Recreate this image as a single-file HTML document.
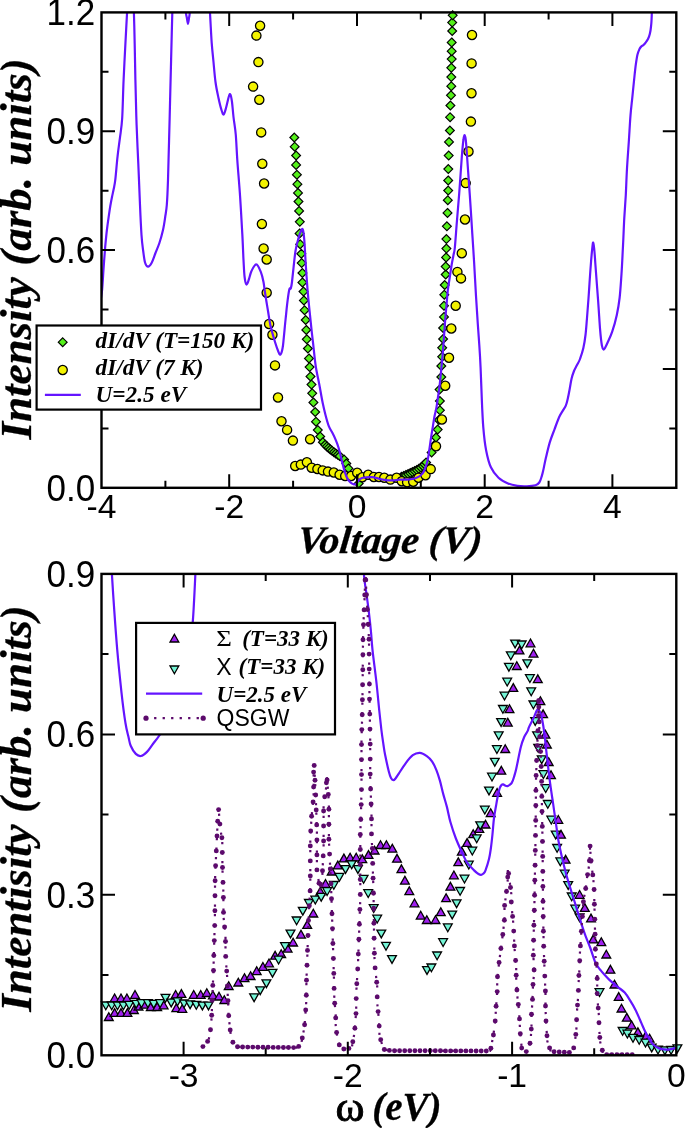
<!DOCTYPE html><html><head><meta charset="utf-8"><style>html,body{margin:0;padding:0;background:#fff;}svg{display:block;}</style></head><body>
<svg width="685" height="1128" viewBox="0 0 685 1128">
<rect width="685" height="1128" fill="#fff"/>
<defs><clipPath id="ct"><rect x="101.5" y="12.4" width="574.8" height="475.40000000000003"/></clipPath><clipPath id="cb"><rect x="101.5" y="573.9" width="574.8" height="481.4"/></clipPath><path id="dm" d="M0,-4.4 L4.4,0 L0,4.4 L-4.4,0Z" fill="#55f01a" stroke="#000" stroke-width="1.2"/><circle id="ci" r="4.6" fill="#f2f200" stroke="#000" stroke-width="1.3"/><path id="tu" d="M0,-4.7 L4.4,3.1 L-4.4,3.1Z" fill="#a020f0" stroke="#000" stroke-width="1.3" stroke-linejoin="miter"/><path id="td" d="M0,4.7 L4.4,-3.1 L-4.4,-3.1Z" fill="#74f5d6" stroke="#000" stroke-width="1.3" stroke-linejoin="miter"/></defs>
<g><use href="#dm" x="294.3" y="137.5"/><use href="#dm" x="294.7" y="146.7"/><use href="#dm" x="296.1" y="155.5"/><use href="#dm" x="296.1" y="164.9"/><use href="#dm" x="296.9" y="174.7"/><use href="#dm" x="297.4" y="184.2"/><use href="#dm" x="298" y="192.9"/><use href="#dm" x="298.5" y="201.5"/><use href="#dm" x="299.1" y="210.9"/><use href="#dm" x="299.8" y="221.8"/><use href="#dm" x="299.6" y="233.4"/><use href="#dm" x="300.2" y="244.2"/><use href="#dm" x="301.3" y="253.8"/><use href="#dm" x="301.7" y="263.1"/><use href="#dm" x="302.4" y="273"/><use href="#dm" x="302.4" y="282.4"/><use href="#dm" x="303.5" y="291.6"/><use href="#dm" x="303.9" y="300.4"/><use href="#dm" x="304.6" y="310.2"/><use href="#dm" x="305.7" y="320"/><use href="#dm" x="306.3" y="329.9"/><use href="#dm" x="306.8" y="339.3"/><use href="#dm" x="307.9" y="348.5"/><use href="#dm" x="309" y="358.4"/><use href="#dm" x="309.6" y="367.1"/><use href="#dm" x="310.5" y="376.4"/><use href="#dm" x="311.5" y="384.6"/><use href="#dm" x="312.2" y="393.3"/><use href="#dm" x="313.4" y="402.4"/><use href="#dm" x="315.2" y="412"/><use href="#dm" x="316" y="421.7"/><use href="#dm" x="317.8" y="430.1"/><use href="#dm" x="320.2" y="436.5"/><use href="#dm" x="322.9" y="442.2"/><use href="#dm" x="325.2" y="444.8"/><use href="#dm" x="326.9" y="446.4"/><use href="#dm" x="328.6" y="447.9"/><use href="#dm" x="330.3" y="449.4"/><use href="#dm" x="332.1" y="450.8"/><use href="#dm" x="334" y="452.2"/><use href="#dm" x="335.8" y="453.6"/><use href="#dm" x="337.8" y="454.8"/><use href="#dm" x="339.7" y="456.1"/><use href="#dm" x="344.1" y="459.6"/><use href="#dm" x="346.3" y="463.6"/><use href="#dm" x="348.4" y="468.4"/><use href="#dm" x="358.7" y="483.4"/><use href="#dm" x="401.5" y="476.8"/><use href="#dm" x="403.7" y="475.9"/><use href="#dm" x="405.9" y="474.9"/><use href="#dm" x="408.1" y="474"/><use href="#dm" x="410.3" y="473.1"/><use href="#dm" x="412.5" y="472.1"/><use href="#dm" x="414.7" y="471.1"/><use href="#dm" x="416.8" y="470"/><use href="#dm" x="418.9" y="468.8"/><use href="#dm" x="420.9" y="467.4"/><use href="#dm" x="422.8" y="466"/><use href="#dm" x="424.5" y="464.3"/><use href="#dm" x="426.1" y="462.5"/><use href="#dm" x="431.6" y="452.4"/><use href="#dm" x="434.5" y="445"/><use href="#dm" x="436" y="437.5"/><use href="#dm" x="437.7" y="429.6"/><use href="#dm" x="438.8" y="420"/><use href="#dm" x="439.9" y="410.3"/><use href="#dm" x="439.9" y="401"/><use href="#dm" x="439.6" y="389.6"/><use href="#dm" x="441.3" y="377"/><use href="#dm" x="441.3" y="366"/><use href="#dm" x="442.2" y="356.8"/><use href="#dm" x="442.2" y="347.8"/><use href="#dm" x="443.1" y="339"/><use href="#dm" x="443.1" y="328"/><use href="#dm" x="444" y="316.9"/><use href="#dm" x="444" y="305.7"/><use href="#dm" x="444.3" y="294.7"/><use href="#dm" x="444.7" y="285"/><use href="#dm" x="445.7" y="274.5"/><use href="#dm" x="445.7" y="266.6"/><use href="#dm" x="446.1" y="257.4"/><use href="#dm" x="446.4" y="248.6"/><use href="#dm" x="446.4" y="239.1"/><use href="#dm" x="446.9" y="226.3"/><use href="#dm" x="447.5" y="212.9"/><use href="#dm" x="447.8" y="200.2"/><use href="#dm" x="448.2" y="190.6"/><use href="#dm" x="448.2" y="180.4"/><use href="#dm" x="448.3" y="169.1"/><use href="#dm" x="448.7" y="155.6"/><use href="#dm" x="449" y="141.9"/><use href="#dm" x="449.9" y="130.5"/><use href="#dm" x="450.1" y="117.2"/><use href="#dm" x="450.4" y="105.5"/><use href="#dm" x="451" y="95.3"/><use href="#dm" x="451.3" y="86.2"/><use href="#dm" x="451.3" y="77.1"/><use href="#dm" x="451.3" y="67.8"/><use href="#dm" x="451.7" y="59.1"/><use href="#dm" x="451.7" y="51.2"/><use href="#dm" x="451.7" y="42.4"/><use href="#dm" x="452.2" y="31"/><use href="#dm" x="452.2" y="22.6"/><use href="#dm" x="452.7" y="15.3"/></g>
<g><use href="#ci" x="260.1" y="25.8"/><use href="#ci" x="256.4" y="35.6"/><use href="#ci" x="258.4" y="62.1"/><use href="#ci" x="253.1" y="86.6"/><use href="#ci" x="259.3" y="99.8"/><use href="#ci" x="261.2" y="132.4"/><use href="#ci" x="262.3" y="163.8"/><use href="#ci" x="264.1" y="183.5"/><use href="#ci" x="261.9" y="224"/><use href="#ci" x="263.6" y="248.5"/><use href="#ci" x="266.7" y="259.5"/><use href="#ci" x="266.7" y="292.7"/><use href="#ci" x="269.1" y="324"/><use href="#ci" x="272.4" y="334.7"/><use href="#ci" x="275" y="365.4"/><use href="#ci" x="278" y="397.5"/><use href="#ci" x="281.5" y="421.3"/><use href="#ci" x="287.1" y="429.9"/><use href="#ci" x="292.9" y="440.6"/><use href="#ci" x="310.1" y="439.2"/><use href="#ci" x="295.2" y="466"/><use href="#ci" x="300.8" y="464.6"/><use href="#ci" x="306.9" y="462.3"/><use href="#ci" x="311.7" y="467.8"/><use href="#ci" x="317.4" y="469"/><use href="#ci" x="322.7" y="470.4"/><use href="#ci" x="328" y="471.6"/><use href="#ci" x="333.8" y="472.5"/><use href="#ci" x="339.6" y="474.7"/><use href="#ci" x="345.2" y="476"/><use href="#ci" x="351.1" y="476"/><use href="#ci" x="357.2" y="472.8"/><use href="#ci" x="362.3" y="477.3"/><use href="#ci" x="368.2" y="474.7"/><use href="#ci" x="373.8" y="477"/><use href="#ci" x="379" y="477"/><use href="#ci" x="384.3" y="477.8"/><use href="#ci" x="390.4" y="479.6"/><use href="#ci" x="396.6" y="477.8"/><use href="#ci" x="401.8" y="481.3"/><use href="#ci" x="407.1" y="482.2"/><use href="#ci" x="413.2" y="481.7"/><use href="#ci" x="418.5" y="477.8"/><use href="#ci" x="425.5" y="475.2"/><use href="#ci" x="430.7" y="469.1"/><use href="#ci" x="436" y="446.3"/><use href="#ci" x="441.9" y="419.5"/><use href="#ci" x="445.2" y="385.8"/><use href="#ci" x="449" y="357.7"/><use href="#ci" x="451.3" y="328.5"/><use href="#ci" x="455.7" y="305.7"/><use href="#ci" x="457.4" y="271.9"/><use href="#ci" x="461" y="278.4"/><use href="#ci" x="461.8" y="253.3"/><use href="#ci" x="465" y="219.5"/><use href="#ci" x="465.7" y="183.1"/><use href="#ci" x="468.5" y="151.5"/><use href="#ci" x="470.9" y="121.6"/><use href="#ci" x="471.5" y="93.2"/><use href="#ci" x="471.6" y="63.4"/><use href="#ci" x="472" y="35"/></g>
<path clip-path="url(#ct)" d="M101,298 C101.2,296.5 101.8,294 102.2,289 C102.6,284 103.1,275.1 103.6,268 C104.1,260.9 104.7,253 105.2,246.7 C105.8,240.4 106.3,234.9 106.9,230 C107.5,225.1 108,221.3 108.6,217.3 C109.2,213.3 109.7,209.4 110.3,206 C110.9,202.6 111.4,199.9 112,197 C112.6,194.1 113.2,191.5 113.8,188.5 C114.4,185.5 114.8,184.2 115.4,178.8 C116,173.4 116.8,163 117.6,156.2 C118.3,149.4 119.1,144.5 119.9,138.1 C120.7,131.7 121.6,127.7 122.2,118 C122.8,108.3 123,93 123.6,80 C124.2,67 124.9,52.5 125.6,40 C126.2,27.5 126.8,18.3 127.5,5 C128.2,-8.3 129.3,-32.5 130,-40 C130.7,-47.5 130.8,-48.8 131.5,-40 C132.2,-31.2 133.2,-7 133.9,13 C134.6,33 135,61.3 135.4,80 C135.8,98.7 136.1,111 136.6,125 C137.1,139 137.7,150.5 138.3,163.8 C138.9,177.1 139.5,193.1 140,205 C140.5,216.9 141,227.3 141.5,235 C142,242.7 142.6,246.4 143.2,251 C143.8,255.6 144.3,260.1 145.1,262.7 C145.9,265.3 147,266.6 148.1,266.6 C149.2,266.6 150.5,264.9 151.7,262.7 C152.9,260.5 154,256.8 155.3,253.5 C156.6,250.2 158.1,246.9 159.4,243 C160.7,239.1 162,234.3 163,230 C164,225.7 164.6,221.2 165.2,217 C165.8,212.8 166.3,211.2 166.8,205 C167.3,198.8 167.7,189.2 168,180 C168.3,170.8 168.5,160 168.8,150 C169.1,140 169.2,135 169.6,120 C170,105 170.6,77.8 171.1,60 C171.6,42.2 171.8,29.7 172.3,13 C172.8,-3.7 172.1,-31.2 174,-40 C175.9,-48.8 181.6,-48 183.5,-40 C185.4,-32 185,-1.7 185.6,8 C186.2,17.7 186.5,15.3 186.9,18 C187.3,20.7 187.7,24 188,24 C188.3,24 188.7,20.7 189,18 C189.3,15.3 189.6,17.7 190,8 C190.4,-1.7 188.7,-32 191.5,-40 C194.3,-48 203.9,-48.8 207,-40 C210.1,-31.2 209.2,-0.8 210,13 C210.8,26.8 211.1,34.6 211.7,42.8 C212.3,51 212.9,55.5 213.5,62 C214.1,68.5 214.7,76 215.5,82 C216.3,88 217.5,93.3 218.5,98 C219.5,102.7 220.6,107.2 221.5,110 C222.4,112.8 222.9,114.8 223.7,114.5 C224.4,114.2 225.2,110.9 226,108 C226.8,105.1 228,99.3 228.7,97 C229.4,94.7 229.8,93.5 230.3,94.3 C230.9,95.1 231.5,98.2 232,102 C232.5,105.8 232.9,111.5 233.5,117 C234.1,122.5 235.2,127.8 235.8,135 C236.4,142.2 236.6,149.7 237.3,160 C238,170.3 239.3,184.3 240.1,196.6 C240.9,208.9 241.7,223.3 242.3,233.9 C242.9,244.5 243.1,252.8 243.5,260 C243.9,267.2 244.1,272.9 244.6,277 C245.1,281.1 245.8,284.2 246.5,284.5 C247.2,284.8 248.2,281.2 249,279 C249.8,276.8 250.3,273.4 251.5,271 C252.7,268.6 254.8,264.2 256.4,264.4 C257.9,264.5 259.6,269 260.8,271.9 C262,274.8 262.8,278.4 263.5,282 C264.2,285.6 264.4,289 265.2,293.8 C265.9,298.6 267.1,305.5 268,311 C268.9,316.5 269.5,321.4 270.7,326.6 C271.9,331.8 273.7,337.8 275,342 C276.3,346.2 277.6,349.9 278.5,352 C279.4,354.1 279.8,355.2 280.5,354.5 C281.2,353.8 282.1,350.8 282.6,348 C283.2,345.2 283.3,342.3 283.8,337.6 C284.3,332.9 284.9,325.5 285.5,320 C286.1,314.5 286.5,309.8 287.1,304.7 C287.7,299.6 288.7,292.2 289.3,289.5 C289.9,286.8 290.4,289.8 290.8,288.5 C291.2,287.2 291.6,285.4 292,282 C292.4,278.6 292.9,273.2 293.5,268 C294.1,262.8 294.7,256 295.5,251 C296.3,246 297.6,241.3 298.5,238 C299.4,234.7 300.3,232.4 301,231 C301.7,229.6 302.2,228 302.8,229.5 C303.4,231 303.8,234.1 304.3,240 C304.8,245.9 305.2,256 305.8,265 C306.4,274 307,283.5 307.9,293.8 C308.8,304.1 310.3,317.7 311.2,326.6 C312.1,335.5 312.8,340.4 313.5,347 C314.2,353.6 314.8,359.8 315.7,366 C316.6,372.2 318,377.8 319.2,384 C320.4,390.2 321.6,397.8 322.7,403 C323.8,408.2 324.5,411.1 325.5,415 C326.5,418.9 327.6,423.1 328.8,426.1 C330,429.1 331.3,430.7 332.5,433 C333.7,435.3 334.8,437.7 335.8,440.1 C336.8,442.5 337.7,444.9 338.5,447.5 C339.3,450.1 339.8,452.6 340.7,456 C341.6,459.4 342.7,464.6 343.7,468.1 C344.7,471.6 345.5,474.6 346.6,477 C347.7,479.4 349.3,481.3 350.5,482.5 C351.7,483.7 353,484.1 354,484.3 C355,484.6 355.5,484.7 356.3,484 C357.1,483.3 357.9,481 358.9,480 C359.8,479 361,478.4 362,478 C363,477.6 363.3,477.6 365,477.5 C366.7,477.4 369.7,477 372,477.2 C374.3,477.4 376.7,478.2 379,478.7 C381.3,479.2 383.7,479.9 386,480.2 C388.3,480.5 390.7,480.5 393,480.4 C395.3,480.3 397.7,479.7 400,479.6 C402.3,479.5 404.7,479.8 407,479.6 C409.3,479.5 411.9,479.2 414,478.7 C416.1,478.2 417.8,477.3 419.3,476.4 C420.8,475.4 421.9,474.6 423,473 C424.1,471.4 424.8,469.2 425.6,467 C426.4,464.8 427.1,462.8 427.7,460 C428.3,457.2 428.8,453.3 429.3,450 C429.8,446.7 430.2,443.5 430.7,440 C431.2,436.5 431.9,432.5 432.5,428.8 C433.1,425.1 433.6,421.5 434.2,418 C434.8,414.5 435.7,411.5 436.4,407.7 C437.1,403.9 437.7,399.1 438.3,395 C438.9,390.9 439.4,387.6 439.9,383.1 C440.4,378.6 440.9,372.7 441.4,368 C441.8,363.3 442.2,360.1 442.6,355.1 C443,350.1 443.5,343.9 443.9,338 C444.3,332.1 444.8,325.7 445.2,320 C445.6,314.3 446.2,308.9 446.6,304 C447,299.1 447.3,294.8 447.8,290.3 C448.3,285.8 449.2,281.3 449.8,277 C450.4,272.7 451.1,268.2 451.7,264.5 C452.3,260.8 453,257.8 453.5,255 C454,252.2 454.3,253 454.8,248 C455.3,243 455.9,234.2 456.6,225.1 C457.3,216 458.3,204.9 459.2,193.6 C460.1,182.2 461.1,165.9 461.8,157 C462.5,148.1 462.9,143.7 463.4,140 C463.8,136.3 464.1,135 464.5,135 C464.9,135 465.4,136.3 465.8,140 C466.2,143.7 466.5,148.1 467.1,157 C467.8,165.9 468.8,180.8 469.7,193.6 C470.6,206.4 471.6,222.5 472.3,233.9 C473,245.3 473.5,251.7 474.1,262 C474.7,272.4 475.4,285.7 476,296 C476.6,306.3 477.2,315.8 477.8,324 C478.4,332.2 478.8,337.7 479.3,345 C479.8,352.3 480.2,359 480.6,368 C481,377 481.4,389.1 481.8,399 C482.2,408.9 482.6,418.9 483.3,427.4 C484,435.9 484.8,443.5 486.1,450.2 C487.4,456.9 488.8,462.7 490.9,467.3 C493,471.9 495.6,475 498.5,477.7 C501.4,480.4 504.9,482 508,483.4 C511.1,484.8 514.2,485.4 517.4,485.9 C520.5,486.4 523.9,486.4 526.9,486.3 C529.9,486.2 533.4,485.9 535.5,485.3 C537.6,484.7 538.3,483.9 539.3,482.5 C540.3,481.1 540.9,478.9 541.5,477 C542.1,475.1 542.4,474.3 543.1,471.1 C543.8,467.9 544.8,462.6 545.9,457.8 C547,453.1 548.3,447.4 549.7,442.6 C551.1,437.9 552.9,433.6 554.5,429.3 C556.1,425 557.8,420.1 559.2,417 C560.6,413.9 561.9,412.3 563,410.4 C564.1,408.5 565,407.5 565.8,405.6 C566.6,403.7 567.1,401.7 567.7,399 C568.3,396.3 569,392.8 569.6,389.5 C570.2,386.2 570.8,382.1 571.5,379 C572.2,375.9 573.1,373.3 574,371 C574.9,368.7 576,367 577,365 C578,363 579,361.8 580,359 C581,356.2 582.4,352.3 583.3,348.3 C584.2,344.3 584.9,340.1 585.5,335 C586.1,329.9 586.4,325.1 587,318 C587.6,310.9 588.3,301.3 588.9,292.5 C589.5,283.7 590.2,272.2 590.8,265 C591.3,257.8 591.8,252.8 592.2,249 C592.6,245.2 592.9,242.3 593.2,242.5 C593.6,242.7 593.9,246.3 594.3,250 C594.7,253.7 594.8,255.9 595.4,264.5 C596,273.1 597.4,290.9 598.2,301.8 C599,312.7 599.5,322.4 600.1,329.7 C600.7,337 601.3,342.2 601.9,345.5 C602.5,348.8 603,349.2 603.6,349.5 C604.2,349.8 604.9,348.1 605.5,347 C606.1,345.9 606.4,345.4 607.5,342.8 C608.6,340.2 610.7,336.2 612.2,331.6 C613.8,327 615.6,320.6 616.8,315 C618,309.4 618.8,304.9 619.6,298 C620.4,291.1 620.9,282.5 621.5,273.8 C622.1,265.1 622.5,255.2 623,245.9 C623.5,236.6 623.8,226.4 624.3,217.9 C624.8,209.4 625.3,203.2 625.8,195 C626.2,186.8 626.5,177.3 627,168.5 C627.5,159.7 628.2,150.8 628.8,141.9 C629.4,133 629.9,122.7 630.5,115.3 C631.1,107.9 631.7,103.5 632.3,97.6 C632.9,91.7 633.5,85.4 634.1,79.8 C634.7,74.2 635.3,68.1 635.9,63.9 C636.5,59.7 636.9,57 637.5,54.5 C638.1,52 638.9,50.3 639.5,49 C640.1,47.7 640.5,47.3 641.2,46.6 C641.9,45.9 642.8,45.7 643.5,45 C644.2,44.3 644.9,43.6 645.6,42.6 C646.4,41.6 647.3,40.4 648,39 C648.7,37.6 649.3,36.1 649.8,34 C650.3,31.9 650.7,30.1 651,26.6 C651.3,23.2 651.5,24.4 651.8,13.3 C652,2.2 652.4,-31.1 652.5,-40" fill="none" stroke="#6414ff" stroke-width="2.2" stroke-linejoin="round"/>
<path d="M229.2,487.8v-13.5M229.2,12.4v13.5M357,487.8v-13.5M357,12.4v13.5M484.7,487.8v-13.5M484.7,12.4v13.5M612.4,487.8v-13.5M612.4,12.4v13.5M165.4,487.8v-7.0M165.4,12.4v7.0M293.1,487.8v-7.0M293.1,12.4v7.0M420.8,487.8v-7.0M420.8,12.4v7.0M548.6,487.8v-7.0M548.6,12.4v7.0M101.5,368.9h13.5M676.3,368.9h-13.5M101.5,250.1h13.5M676.3,250.1h-13.5M101.5,131.2h13.5M676.3,131.2h-13.5M101.5,428.4h7.0M676.3,428.4h-7.0M101.5,309.5h7.0M676.3,309.5h-7.0M101.5,190.7h7.0M676.3,190.7h-7.0M101.5,71.8h7.0M676.3,71.8h-7.0" stroke="#000" stroke-width="2.0" fill="none"/>
<rect x="101.5" y="12.4" width="574.8" height="475.4" fill="none" stroke="#000" stroke-width="2.4"/>
<text transform="translate(95.2,25.3) scale(1,1.05)" text-anchor="end" font-family="'Liberation Sans', Arial, Helvetica, sans-serif" font-size="35">1.2</text>
<text transform="translate(95.2,144.2) scale(1,1.05)" text-anchor="end" font-family="'Liberation Sans', Arial, Helvetica, sans-serif" font-size="35">0.9</text>
<text transform="translate(95.2,263) scale(1,1.05)" text-anchor="end" font-family="'Liberation Sans', Arial, Helvetica, sans-serif" font-size="35">0.6</text>
<text transform="translate(95.2,381.8) scale(1,1.05)" text-anchor="end" font-family="'Liberation Sans', Arial, Helvetica, sans-serif" font-size="35">0.3</text>
<text transform="translate(95.2,500.7) scale(1,1.05)" text-anchor="end" font-family="'Liberation Sans', Arial, Helvetica, sans-serif" font-size="35">0.0</text>
<text transform="translate(101.5,518.2) scale(1.02,1)" text-anchor="middle" font-family="'Liberation Sans', Arial, Helvetica, sans-serif" font-size="33">-4</text>
<text transform="translate(229.2,518.2) scale(1.02,1)" text-anchor="middle" font-family="'Liberation Sans', Arial, Helvetica, sans-serif" font-size="33">-2</text>
<text transform="translate(357,518.2) scale(1.02,1)" text-anchor="middle" font-family="'Liberation Sans', Arial, Helvetica, sans-serif" font-size="33">0</text>
<text transform="translate(484.7,518.2) scale(1.02,1)" text-anchor="middle" font-family="'Liberation Sans', Arial, Helvetica, sans-serif" font-size="33">2</text>
<text transform="translate(612.4,518.2) scale(1.02,1)" text-anchor="middle" font-family="'Liberation Sans', Arial, Helvetica, sans-serif" font-size="33">4</text>
<text transform="translate(296.4,552.8) scale(1.02,1) skewX(-6)" font-family="'Liberation Serif', 'Times New Roman', serif" font-weight="bold" font-style="italic" font-size="39" stroke="#000" stroke-width="0.3">Voltage (V)</text>
<text transform="translate(31,439.5) rotate(-90)" font-family="'Liberation Serif', 'Times New Roman', serif" font-weight="bold" font-style="italic" font-size="45" stroke="#000" stroke-width="0.3">Intensity (arb. units)</text>
<rect x="36.6" y="325.5" width="224.4" height="84.1" fill="#fff" stroke="#000" stroke-width="2.2"/>
<use href="#dm" x="62.7" y="342.2"/><use href="#ci" x="62.7" y="370"/>
<path d="M44.9,394.8H80.8" stroke="#6414ff" stroke-width="2.2"/>
<text transform="translate(95.6,348.2) scale(1.01,1)" font-family="'Liberation Serif', 'Times New Roman', serif" font-weight="bold" font-style="italic" font-size="23">dI/dV (T=150 K)</text>
<text transform="translate(95.6,375.2) scale(1.01,1)" font-family="'Liberation Serif', 'Times New Roman', serif" font-weight="bold" font-style="italic" font-size="23">dI/dV (7 K)</text>
<text transform="translate(95.6,402.0) scale(1.01,1)" font-family="'Liberation Serif', 'Times New Roman', serif" font-weight="bold" font-style="italic" font-size="23">U=2.5 eV</text>
<g><use href="#tu" x="108.8" y="1017.4"/><use href="#tu" x="114.6" y="1013.3"/><use href="#tu" x="121" y="1013.3"/><use href="#tu" x="127.4" y="1013.3"/><use href="#tu" x="133.9" y="1010.4"/><use href="#tu" x="138.5" y="1006.9"/><use href="#tu" x="144.4" y="1005.1"/><use href="#tu" x="150.8" y="1007.4"/><use href="#tu" x="157.2" y="1007.4"/><use href="#tu" x="163.6" y="1005.7"/><use href="#tu" x="176.3" y="1008.5"/><use href="#tu" x="182.3" y="1009.2"/><use href="#tu" x="114.6" y="998.7"/><use href="#tu" x="121" y="998.7"/><use href="#tu" x="126.9" y="998.7"/><use href="#tu" x="135" y="995.2"/><use href="#tu" x="175.6" y="995.2"/><use href="#tu" x="181.4" y="994.3"/><use href="#tu" x="193.7" y="995.2"/><use href="#tu" x="200.7" y="995.2"/><use href="#tu" x="206.8" y="993.4"/><use href="#tu" x="212.9" y="995.7"/><use href="#tu" x="219" y="996.9"/><use href="#tu" x="224.3" y="1000.4"/><use href="#tu" x="228.7" y="986.4"/><use href="#tu" x="238.3" y="982.9"/><use href="#tu" x="244.5" y="978.5"/><use href="#tu" x="250.6" y="976.4"/><use href="#tu" x="256.7" y="971.5"/><use href="#tu" x="262.9" y="967.2"/><use href="#tu" x="269" y="963.7"/><use href="#tu" x="275.1" y="956.1"/><use href="#tu" x="281.2" y="954.4"/><use href="#tu" x="287.6" y="949"/><use href="#tu" x="293.1" y="942.9"/><use href="#tu" x="301" y="935"/><use href="#tu" x="307.2" y="925.3"/><use href="#tu" x="313.3" y="913.9"/><use href="#tu" x="320.3" y="892"/><use href="#tu" x="325.5" y="884.2"/><use href="#tu" x="331.7" y="871.9"/><use href="#tu" x="337.8" y="865.8"/><use href="#tu" x="343.9" y="858.8"/><use href="#tu" x="350.1" y="857.9"/><use href="#tu" x="356.2" y="857.9"/><use href="#tu" x="362.3" y="859.6"/><use href="#tu" x="368.5" y="855.3"/><use href="#tu" x="374.6" y="850.9"/><use href="#tu" x="380.5" y="845.4"/><use href="#tu" x="386.4" y="845.4"/><use href="#tu" x="392.3" y="849"/><use href="#tu" x="397" y="859.1"/><use href="#tu" x="401.4" y="869.6"/><use href="#tu" x="404.9" y="881"/><use href="#tu" x="409.3" y="891.5"/><use href="#tu" x="414.5" y="903.7"/><use href="#tu" x="420.7" y="916"/><use href="#tu" x="426.8" y="920.4"/><use href="#tu" x="435.5" y="920.4"/><use href="#tu" x="440.8" y="912.5"/><use href="#tu" x="446.1" y="898.5"/><use href="#tu" x="450.4" y="887.1"/><use href="#tu" x="453.9" y="875.7"/><use href="#tu" x="458.3" y="862.6"/><use href="#tu" x="461.8" y="852"/><use href="#tu" x="467.1" y="843.3"/><use href="#tu" x="473.2" y="834.5"/><use href="#tu" x="479.3" y="829.3"/><use href="#tu" x="485.5" y="824.9"/><use href="#tu" x="490.7" y="813.5"/><use href="#tu" x="497.1" y="793.2"/><use href="#tu" x="501.3" y="771.1"/><use href="#tu" x="505.2" y="749.4"/><use href="#tu" x="507.8" y="723"/><use href="#tu" x="509.5" y="709.5"/><use href="#tu" x="513.3" y="688.3"/><use href="#tu" x="516.8" y="666.4"/><use href="#tu" x="519.5" y="650.8"/><use href="#tu" x="530.5" y="643.7"/><use href="#tu" x="533.5" y="654"/><use href="#tu" x="537.8" y="679.6"/><use href="#tu" x="540.4" y="701.5"/><use href="#tu" x="543.1" y="714.6"/><use href="#tu" x="545.4" y="735"/><use href="#tu" x="546.9" y="744.9"/><use href="#tu" x="548.7" y="762.4"/><use href="#tu" x="551" y="775.5"/><use href="#tu" x="558.3" y="820.2"/><use href="#tu" x="561" y="835.1"/><use href="#tu" x="565.6" y="860.1"/><use href="#tu" x="579.6" y="895.2"/><use href="#tu" x="584.8" y="908.3"/><use href="#tu" x="591" y="918.8"/><use href="#tu" x="593.2" y="939.8"/><use href="#tu" x="601.3" y="942.5"/><use href="#tu" x="606.3" y="954.9"/><use href="#tu" x="610.4" y="970.1"/><use href="#tu" x="614.5" y="984.9"/><use href="#tu" x="618.7" y="997.3"/><use href="#tu" x="621.5" y="1008.9"/><use href="#tu" x="626.8" y="1018.1"/><use href="#tu" x="631.6" y="1025.7"/><use href="#tu" x="637.9" y="1032.6"/><use href="#tu" x="645.5" y="1036.8"/><use href="#tu" x="649.6" y="1038.9"/></g>
<g><use href="#td" x="105.8" y="1005.1"/><use href="#td" x="111.7" y="1005.1"/><use href="#td" x="117.5" y="1005.1"/><use href="#td" x="123.4" y="1005.1"/><use href="#td" x="129.2" y="1004.5"/><use href="#td" x="136.2" y="1003.4"/><use href="#td" x="141.5" y="1002.8"/><use href="#td" x="147.9" y="1002.8"/><use href="#td" x="153.7" y="1003.4"/><use href="#td" x="160.1" y="1002.8"/><use href="#td" x="165.5" y="997.5"/><use href="#td" x="171.2" y="1002.2"/><use href="#td" x="177.5" y="1001"/><use href="#td" x="184" y="1003.1"/><use href="#td" x="190.1" y="1003.9"/><use href="#td" x="196.3" y="1004.5"/><use href="#td" x="202.4" y="1005.2"/><use href="#td" x="208.5" y="1005.2"/><use href="#td" x="254.1" y="996.9"/><use href="#td" x="260.2" y="989.9"/><use href="#td" x="266.4" y="982.9"/><use href="#td" x="272.5" y="972.4"/><use href="#td" x="278.6" y="959.3"/><use href="#td" x="285" y="945.8"/><use href="#td" x="290.5" y="933.2"/><use href="#td" x="296.6" y="920.1"/><use href="#td" x="302.8" y="910.4"/><use href="#td" x="308.9" y="902.6"/><use href="#td" x="315.3" y="899.3"/><use href="#td" x="321.2" y="896.4"/><use href="#td" x="327.1" y="890.8"/><use href="#td" x="333.8" y="884.6"/><use href="#td" x="339.4" y="876.5"/><use href="#td" x="345.5" y="868.7"/><use href="#td" x="351.7" y="864"/><use href="#td" x="357.9" y="868.7"/><use href="#td" x="363.6" y="878.5"/><use href="#td" x="368.2" y="892.8"/><use href="#td" x="373.7" y="907.8"/><use href="#td" x="377.2" y="918.3"/><use href="#td" x="381.3" y="933.2"/><use href="#td" x="386" y="945.5"/><use href="#td" x="392" y="958.7"/><use href="#td" x="427" y="969.7"/><use href="#td" x="431.4" y="967.1"/><use href="#td" x="437.1" y="955.1"/><use href="#td" x="443.1" y="941.8"/><use href="#td" x="447.8" y="927"/><use href="#td" x="452.2" y="914.2"/><use href="#td" x="456.6" y="902.9"/><use href="#td" x="460.1" y="890.6"/><use href="#td" x="464.5" y="878.3"/><use href="#td" x="468.8" y="864.3"/><use href="#td" x="472.3" y="850.3"/><use href="#td" x="476.7" y="838"/><use href="#td" x="480.2" y="824.9"/><use href="#td" x="484.8" y="809.3"/><use href="#td" x="489" y="790.2"/><use href="#td" x="492" y="776.3"/><use href="#td" x="494.8" y="761.4"/><use href="#td" x="496.9" y="748.8"/><use href="#td" x="498.7" y="735"/><use href="#td" x="501.1" y="721.7"/><use href="#td" x="502.9" y="708.6"/><use href="#td" x="504.5" y="695.3"/><use href="#td" x="507.2" y="681.3"/><use href="#td" x="508.9" y="666.4"/><use href="#td" x="510.8" y="655"/><use href="#td" x="515.1" y="643.2"/><use href="#td" x="521.7" y="644.1"/><use href="#td" x="527.3" y="662.9"/><use href="#td" x="529.9" y="677.8"/><use href="#td" x="531.2" y="691"/><use href="#td" x="533.4" y="704.1"/><use href="#td" x="535.2" y="720.7"/><use href="#td" x="537.1" y="735"/><use href="#td" x="538.2" y="747.5"/><use href="#td" x="541.7" y="758.9"/><use href="#td" x="543.4" y="773.8"/><use href="#td" x="545.7" y="787.8"/><use href="#td" x="547.8" y="803.6"/><use href="#td" x="551.3" y="819.3"/><use href="#td" x="555.7" y="834.2"/><use href="#td" x="557.1" y="847.6"/><use href="#td" x="560.3" y="861"/><use href="#td" x="564.7" y="873.3"/><use href="#td" x="568.2" y="884.7"/><use href="#td" x="571.7" y="896.1"/><use href="#td" x="575.2" y="908.3"/><use href="#td" x="579.6" y="917.1"/><use href="#td" x="599.5" y="991.8"/><use href="#td" x="622.6" y="1030.6"/><use href="#td" x="627.4" y="1033.3"/><use href="#td" x="633" y="1037.5"/><use href="#td" x="639.2" y="1039.6"/><use href="#td" x="645.5" y="1042.3"/><use href="#td" x="651.7" y="1047.2"/><use href="#td" x="658" y="1049.3"/><use href="#td" x="664.9" y="1050"/><use href="#td" x="671.1" y="1049.6"/><use href="#td" x="677.4" y="1047.9"/></g>
<path clip-path="url(#cb)" d="M106.5,480 C107,488.3 108.6,514.3 109.5,530 C110.4,545.7 111.1,560.6 111.9,574.1 C112.7,587.6 113.4,598 114.3,610.9 C115.2,623.8 116.2,638.1 117.4,651.7 C118.6,665.3 120.2,680.7 121.5,692.6 C122.8,704.5 124.3,715.9 125.5,723.3 C126.7,730.7 127.6,733.2 128.5,737 C129.4,740.8 129.5,743 130.7,745.8 C131.9,748.6 134.1,752.2 135.8,753.9 C137.5,755.6 139,756.3 140.9,756 C142.8,755.7 145,753.9 147,751.9 C149,749.9 151,746.4 153.1,743.7 C155.2,741 157.2,738.8 159.3,735.5 C161.5,732.2 163.7,729.1 166,724 C168.3,718.9 170.7,712.3 173,705 C175.3,697.7 177.8,688.3 180,680 C182.2,671.7 184.3,662.3 186,655 C187.7,647.7 188.9,641.6 190,636 C191.1,630.4 191.9,631.9 192.8,621.4 C193.7,610.9 194.7,588.4 195.4,573.2 C196.1,558 169.2,537.2 197,530 C224.8,522.8 334.2,522.7 362,530 C389.8,537.3 363.2,563.7 363.9,574 C364.6,584.3 365.4,586 366.2,592 C367,598 367.8,603.2 368.6,609.9 C369.4,616.6 370.4,625.4 371,632 C371.6,638.6 371.6,641.3 372.5,649.8 C373.4,658.3 375.4,673 376.5,683 C377.6,693 378.4,702.2 379.2,710 C380,717.8 380.7,724.2 381.4,730 C382.1,735.8 382.9,740.9 383.5,745 C384.1,749.1 384.2,750.4 385.1,754.8 C386,759.2 387.8,767.6 388.8,771.5 C389.8,775.4 390.2,776.5 391,778 C391.8,779.5 392.6,780.1 393.4,780.2 C394.1,780.3 394.6,779.6 395.5,778.5 C396.4,777.4 397.1,776.2 398.8,773.6 C400.5,771 403.5,766.2 405.8,763.1 C408.1,760 410.5,756.9 412.8,755.2 C415.1,753.5 417.5,752.8 419.8,752.9 C422.1,753 424.8,754.7 426.8,756.1 C428.8,757.5 430.4,759 432,761.3 C433.6,763.6 435.1,766.9 436.4,770.1 C437.7,773.3 438.7,776.5 439.9,780.6 C441.1,784.7 442.2,790.2 443.4,794.6 C444.6,799 445.7,802.3 446.9,806.9 C448.1,811.5 448.9,816.8 450.4,822 C451.9,827.2 453.8,833 455.7,838 C457.6,843 459.9,847.9 461.8,852 C463.7,856.1 465.1,859.5 467.1,862.6 C469.2,865.7 472.2,868.5 474.1,870.4 C476,872.3 477.3,873.3 478.5,874 C479.7,874.7 480.3,874.9 481.1,874.8 C481.9,874.7 482.8,874.2 483.5,873.5 C484.2,872.8 484.6,872.8 485.5,870.4 C486.4,868 488.1,862.8 489,859.1 C489.9,855.4 490.3,852.2 490.9,848 C491.5,843.8 492,839 492.5,834 C493,829 493.4,822.7 494,818 C494.6,813.3 495.4,809.5 496,806 C496.6,802.5 497,799.9 497.6,797 C498.2,794.1 499,790.5 499.6,788.5 C500.2,786.5 500.9,785.7 501.5,785 C502.1,784.3 502.4,784.2 503.1,784.3 C503.8,784.4 504.8,785.5 505.5,785.8 C506.2,786.1 506.8,786.2 507.5,786.1 C508.2,786 508.8,785.6 509.5,785 C510.2,784.4 511.1,783.9 511.9,782.6 C512.6,781.3 513.3,779.4 514,777 C514.7,774.6 515.2,773.4 516.3,768.5 C517.4,763.6 519.4,752.8 520.7,747.5 C522,742.2 523,739.8 524.2,737 C525.4,734.2 526.9,732.6 527.7,730.9 C528.5,729.2 528,729.3 529.1,726.9 C530.2,724.5 533.1,719 534.3,716.4 C535.5,713.8 535.9,712.2 536.5,711 C537.1,709.8 537.3,709.3 537.8,709.3 C538.3,709.3 538.9,710 539.5,711 C540.1,712 540.7,713 541.3,715.5 C541.9,718 542.7,722.2 543.3,726 C543.9,729.8 544.4,733.8 544.9,738 C545.4,742.2 545.5,744.1 546.3,751 C547.1,757.9 548.5,770.3 549.6,779.1 C550.7,787.9 551.9,795.4 553.1,803.6 C554.3,811.8 555.7,821.9 556.6,828.1 C557.5,834.3 557.6,836.1 558.5,841 C559.4,845.9 560.7,851.8 562,857.5 C563.3,863.2 564.8,869.1 566.4,875 C568,880.9 570.1,887.3 571.7,892.6 C573.3,897.9 574.7,901.9 576.1,906.6 C577.5,911.3 578.8,915.6 580.4,920.6 C582,925.6 584,931.8 585.7,936.4 C587.4,941 588.9,944.1 590.5,948.5 C592.1,952.9 593.9,959.3 595.5,962.8 C597.1,966.3 598.8,967.9 600,969.5 C601.2,971.1 600.9,970.8 602.5,972.5 C604.1,974.2 606.9,977.5 609.4,979.9 C611.9,982.3 615.2,984.8 617.7,986.9 C620.2,989 622.6,990.3 624.7,992.6 C626.8,994.9 628.4,997.7 630.2,1000.7 C632.1,1003.7 633.9,1006.7 635.8,1010.4 C637.6,1014.1 639.7,1019.2 641.3,1022.9 C642.9,1026.5 643.9,1029.1 645.5,1032.3 C647.1,1035.5 649.4,1039.5 651,1041.8 C652.6,1044.1 653.8,1045 655,1046 C656.2,1047 656.8,1047.3 658,1047.8 C659.2,1048.3 660.6,1048.9 662,1049.2 C663.4,1049.5 665,1049.6 666.3,1049.6 C667.6,1049.6 668.9,1049.5 670,1049.3 C671.1,1049.1 672.2,1048.8 673.2,1048.6 C674.2,1048.3 675.8,1047.9 676.3,1047.8" fill="none" stroke="#6414ff" stroke-width="2.2" stroke-linejoin="round"/>
<g clip-path="url(#cb)">
<path d="M202.9,1046.6 L205.3,1045.1 L208.5,1040 L210.2,1033.4 L211.7,1016.8 L212.2,998.7 L213.4,973.2 L213.8,956.2 L214.2,943 L214.9,917.9 L215,900.4 L215,887.7 L215.2,874.3 L216.8,840.2 L217.6,823 L218.5,808 L219.4,818 L220.4,829.4 L222.3,840.2 L222.3,853 L222.5,870.4 L223.4,892.3 L223.4,905.1 L223.6,917.9 L225.5,934.9 L225.5,947.7 L225.7,958.3 L227.2,977.4 L227.7,994.5 L228.7,1016.8 L230.9,1036 L234,1045.5 L238.3,1047 L296.6,1047.6 L301,1045 L304.5,1026.6 L306.3,1001.2 L306.3,988 L306.6,975.4 L307.2,960 L308.5,920 L310.3,887 L310.3,876.3 L310.3,863.7 L310.3,850.4 L310.3,837.8 L311.6,816.5 L313.6,797.2 L313.6,785.9 L313.6,773.3 L314,761.3 L315.5,790 L316.9,829.8 L316.9,841.8 L316.9,855 L316.9,871.7 L318.5,880 L320.3,891 L322.3,876.3 L323.6,846.4 L323.6,829.8 L323.6,816.5 L323.6,803.9 L326.3,786.6 L326.5,773.9 L328,790 L328.9,803.9 L328.9,816.5 L328.9,829.8 L328.9,840.4 L330.2,867.7 L330.9,881 L331.5,900 L332.5,930 L333.4,960 L334,980.1 L334.3,997.7 L335.7,1015.2 L335.7,1025.7 L337.5,1038.8 L340.4,1048.5 L345.7,1049.3 L351.8,1047.6 L354.5,1032.7 L356.2,1010.8 L356.2,993.3 L358,963.5 L359.2,930 L360.3,898.8 L360.3,887.6 L360.3,875.2 L360.3,861.5 L360.3,847.9 L360.3,835.5 L361,812 L361.5,789.6 L361.5,778.4 L361.5,766 L361.5,752.8 L361.5,740 L362.2,715 L362.6,690 L362.8,665 L363,640 L363.6,620 L364.5,600 L365,585 L365.4,565 L366,585 L366.8,600 L368,620 L369,640 L369.2,665 L369.4,690 L369.8,715 L370.2,740 L370.2,752.8 L370.2,766 L370.2,778.4 L370.8,795 L371.5,813.1 L371.5,826.8 L371.5,839.2 L372.7,851.6 L372.7,865.3 L373.1,878 L373.5,891.3 L374,930 L374.6,963.5 L377.2,986.3 L377.2,1002.9 L379,1020.4 L379.5,1035.3 L383.4,1049.3 L387.7,1050.2 L393,1050.7 L490,1051 L490.6,1050 L493.4,1034.8 L495.3,1020.6 L495.9,1009.2 L497.2,992.1 L497.2,979.8 L499.1,962.7 L500.8,949.4 L502.5,936.7 L504.5,919.7 L504.5,906.5 L507.6,883.1 L507.9,868 L509.5,880 L511.3,893.9 L511.3,904.6 L513,919.7 L513.8,932.8 L514.5,948 L516.2,967.4 L516.2,980.7 L517.5,997.8 L519.1,1011.1 L520.1,1031.5 L521.9,1049.9 L526.3,1051.6 L528,1051.6 L530.7,1040.2 L531.5,1025.3 L531.5,1014.8 L532.4,1001.7 L533,985 L534.2,971.9 L533.3,954.4 L533.8,930 L534.5,900 L535,870 L535.5,840 L535.8,810 L536,780 L536.8,755 L537.8,735 L538.4,715 L538.6,696.4 L538.9,715 L539.6,735 L540.8,755 L541.6,780 L542,810 L542.5,840 L542.8,870 L543,900 L543.4,930 L543.8,950 L544.7,973.7 L545.5,993.8 L545.5,1006.9 L545.9,1019.2 L547.3,1041.1 L550.8,1051.6 L571.8,1052.5 L572.7,1052.5 L575,1041.5 L576.6,1026.7 L576.6,1016.2 L578.3,994.7 L578.8,977.2 L579.7,966.6 L579.7,956.1 L581.5,930 L583.5,900 L585.5,890 L587,878 L589,866 L589.8,855 L590.1,846 L590.6,855 L591.5,866 L593,876 L594,887 L594.3,900 L595,930 L595.5,956.1 L597.2,972.8 L597.2,996.4 L599,1016.6 L599,1026.7 L600.2,1042 L603.4,1054.6 L636,1054.8" fill="none" stroke="#5c0a6c" stroke-width="2.2" stroke-dasharray="2.2 7.3"/>
<g fill="#5c0a6c"><circle cx="202.9" cy="1046.6" r="2.45"/><circle cx="207.6" cy="1041.4" r="2.45"/><circle cx="210.5" cy="1029.7" r="2.45"/><circle cx="211.7" cy="1015.2" r="2.45"/><circle cx="212.2" cy="1000.2" r="2.45"/><circle cx="212.8" cy="985.4" r="2.45"/><circle cx="213.5" cy="970.5" r="2.45"/><circle cx="213.8" cy="955.5" r="2.45"/><circle cx="214.3" cy="940.6" r="2.45"/><circle cx="214.7" cy="925.6" r="2.45"/><circle cx="214.9" cy="910.7" r="2.45"/><circle cx="215" cy="895.7" r="2.45"/><circle cx="215.1" cy="880.7" r="2.45"/><circle cx="215.6" cy="865.8" r="2.45"/><circle cx="216.3" cy="850.9" r="2.45"/><circle cx="217" cy="836" r="2.45"/><circle cx="217.7" cy="821.2" r="2.45"/><circle cx="218.6" cy="809.6" r="2.45"/><circle cx="219.9" cy="824.1" r="2.45"/><circle cx="221.9" cy="837.8" r="2.45"/><circle cx="222.3" cy="852.5" r="2.45"/><circle cx="222.5" cy="867.5" r="2.45"/><circle cx="223" cy="882.4" r="2.45"/><circle cx="223.4" cy="897.4" r="2.45"/><circle cx="223.5" cy="912.4" r="2.45"/><circle cx="224.6" cy="926.9" r="2.45"/><circle cx="225.5" cy="941.5" r="2.45"/><circle cx="225.7" cy="956.4" r="2.45"/><circle cx="226.7" cy="971.1" r="2.45"/><circle cx="227.4" cy="985.9" r="2.45"/><circle cx="228" cy="1000.8" r="2.45"/><circle cx="228.7" cy="1015.7" r="2.45"/><circle cx="230.2" cy="1030" r="2.45"/><circle cx="232.9" cy="1042.2" r="2.45"/><circle cx="237.5" cy="1046.7" r="2.45"/><circle cx="242.6" cy="1047" r="2.45"/><circle cx="247.7" cy="1047.1" r="2.45"/><circle cx="252.8" cy="1047.1" r="2.45"/><circle cx="257.9" cy="1047.2" r="2.45"/><circle cx="263" cy="1047.3" r="2.45"/><circle cx="268.1" cy="1047.3" r="2.45"/><circle cx="273.2" cy="1047.4" r="2.45"/><circle cx="278.3" cy="1047.4" r="2.45"/><circle cx="283.4" cy="1047.5" r="2.45"/><circle cx="288.5" cy="1047.5" r="2.45"/><circle cx="293.6" cy="1047.6" r="2.45"/><circle cx="298.7" cy="1046.4" r="2.45"/><circle cx="302.3" cy="1038" r="2.45"/><circle cx="304.6" cy="1024.7" r="2.45"/><circle cx="305.7" cy="1010" r="2.45"/><circle cx="306.3" cy="995.2" r="2.45"/><circle cx="306.5" cy="980.2" r="2.45"/><circle cx="307" cy="965.3" r="2.45"/><circle cx="307.5" cy="950.4" r="2.45"/><circle cx="308" cy="935.4" r="2.45"/><circle cx="308.5" cy="920.5" r="2.45"/><circle cx="309.3" cy="905.7" r="2.45"/><circle cx="310.1" cy="890.9" r="2.45"/><circle cx="310.3" cy="875.9" r="2.45"/><circle cx="310.3" cy="860.9" r="2.45"/><circle cx="310.3" cy="845.9" r="2.45"/><circle cx="310.7" cy="831" r="2.45"/><circle cx="311.6" cy="816.3" r="2.45"/><circle cx="313.1" cy="801.9" r="2.45"/><circle cx="313.6" cy="787.1" r="2.45"/><circle cx="313.6" cy="772.1" r="2.45"/><circle cx="314.2" cy="765.4" r="2.45"/><circle cx="315" cy="780.2" r="2.45"/><circle cx="315.7" cy="795" r="2.45"/><circle cx="316.2" cy="810" r="2.45"/><circle cx="316.7" cy="824.9" r="2.45"/><circle cx="316.9" cy="839.9" r="2.45"/><circle cx="316.9" cy="854.9" r="2.45"/><circle cx="316.9" cy="869.9" r="2.45"/><circle cx="319" cy="883.3" r="2.45"/><circle cx="321.1" cy="885.1" r="2.45"/><circle cx="322.5" cy="870.8" r="2.45"/><circle cx="323.2" cy="855.9" r="2.45"/><circle cx="323.6" cy="841" r="2.45"/><circle cx="323.6" cy="826" r="2.45"/><circle cx="323.6" cy="811" r="2.45"/><circle cx="324.7" cy="796.7" r="2.45"/><circle cx="326.4" cy="782.7" r="2.45"/><circle cx="327.1" cy="779.9" r="2.45"/><circle cx="328.3" cy="794.4" r="2.45"/><circle cx="328.9" cy="809.2" r="2.45"/><circle cx="328.9" cy="824.2" r="2.45"/><circle cx="328.9" cy="839.2" r="2.45"/><circle cx="329.6" cy="854.1" r="2.45"/><circle cx="330.3" cy="869" r="2.45"/><circle cx="331" cy="883.8" r="2.45"/><circle cx="331.5" cy="898.7" r="2.45"/><circle cx="332" cy="913.7" r="2.45"/><circle cx="332.5" cy="928.6" r="2.45"/><circle cx="332.9" cy="943.5" r="2.45"/><circle cx="333.4" cy="958.5" r="2.45"/><circle cx="333.8" cy="973.4" r="2.45"/><circle cx="334.1" cy="988.4" r="2.45"/><circle cx="334.7" cy="1003.2" r="2.45"/><circle cx="335.7" cy="1017.9" r="2.45"/><circle cx="336.6" cy="1032.4" r="2.45"/><circle cx="339.3" cy="1044.9" r="2.45"/><circle cx="343.8" cy="1049" r="2.45"/><circle cx="348.9" cy="1048.4" r="2.45"/><circle cx="352.8" cy="1041.8" r="2.45"/><circle cx="354.9" cy="1028.2" r="2.45"/><circle cx="356" cy="1013.6" r="2.45"/><circle cx="356.2" cy="998.6" r="2.45"/><circle cx="356.8" cy="983.8" r="2.45"/><circle cx="357.7" cy="969" r="2.45"/><circle cx="358.3" cy="954.1" r="2.45"/><circle cx="358.9" cy="939.2" r="2.45"/><circle cx="359.4" cy="924.3" r="2.45"/><circle cx="359.9" cy="909.4" r="2.45"/><circle cx="360.3" cy="894.5" r="2.45"/><circle cx="360.3" cy="879.5" r="2.45"/><circle cx="360.3" cy="864.5" r="2.45"/><circle cx="360.3" cy="849.5" r="2.45"/><circle cx="360.3" cy="834.5" r="2.45"/><circle cx="360.8" cy="819.5" r="2.45"/><circle cx="361.2" cy="804.6" r="2.45"/><circle cx="361.5" cy="789.6" r="2.45"/><circle cx="361.5" cy="774.6" r="2.45"/><circle cx="361.5" cy="759.6" r="2.45"/><circle cx="361.5" cy="744.6" r="2.45"/><circle cx="361.8" cy="729.6" r="2.45"/><circle cx="362.2" cy="714.7" r="2.45"/><circle cx="362.4" cy="699.7" r="2.45"/><circle cx="362.6" cy="684.7" r="2.45"/><circle cx="362.8" cy="669.7" r="2.45"/><circle cx="362.9" cy="654.7" r="2.45"/><circle cx="363" cy="639.7" r="2.45"/><circle cx="363.5" cy="624.8" r="2.45"/><circle cx="364.1" cy="609.9" r="2.45"/><circle cx="364.7" cy="595" r="2.45"/><circle cx="365.1" cy="580" r="2.45"/><circle cx="365.4" cy="565.1" r="2.45"/><circle cx="365.8" cy="579.9" r="2.45"/><circle cx="366.5" cy="594.7" r="2.45"/><circle cx="367.4" cy="609.5" r="2.45"/><circle cx="368.2" cy="624.3" r="2.45"/><circle cx="369" cy="639.2" r="2.45"/><circle cx="369.1" cy="654.1" r="2.45"/><circle cx="369.2" cy="669.1" r="2.45"/><circle cx="369.4" cy="684.1" r="2.45"/><circle cx="369.5" cy="699.1" r="2.45"/><circle cx="369.8" cy="714.1" r="2.45"/><circle cx="370" cy="729.1" r="2.45"/><circle cx="370.2" cy="744.1" r="2.45"/><circle cx="370.2" cy="759.1" r="2.45"/><circle cx="370.2" cy="774.1" r="2.45"/><circle cx="370.6" cy="789" r="2.45"/><circle cx="371.1" cy="803.9" r="2.45"/><circle cx="371.5" cy="818.9" r="2.45"/><circle cx="371.5" cy="833.9" r="2.45"/><circle cx="372.4" cy="848.5" r="2.45"/><circle cx="372.7" cy="863.4" r="2.45"/><circle cx="373.1" cy="878.3" r="2.45"/><circle cx="373.5" cy="893.3" r="2.45"/><circle cx="373.7" cy="908.3" r="2.45"/><circle cx="373.9" cy="923.2" r="2.45"/><circle cx="374.1" cy="938.2" r="2.45"/><circle cx="374.4" cy="953.2" r="2.45"/><circle cx="375.1" cy="967.9" r="2.45"/><circle cx="376.7" cy="982.2" r="2.45"/><circle cx="377.2" cy="996.9" r="2.45"/><circle cx="378.1" cy="1011.6" r="2.45"/><circle cx="379.2" cy="1026.1" r="2.45"/><circle cx="380.7" cy="1039.8" r="2.45"/><circle cx="384.3" cy="1049.5" r="2.45"/><circle cx="389.4" cy="1050.4" r="2.45"/><circle cx="394.5" cy="1050.7" r="2.45"/><circle cx="399.6" cy="1050.7" r="2.45"/><circle cx="404.7" cy="1050.7" r="2.45"/><circle cx="409.8" cy="1050.8" r="2.45"/><circle cx="414.9" cy="1050.8" r="2.45"/><circle cx="420" cy="1050.8" r="2.45"/><circle cx="425.1" cy="1050.8" r="2.45"/><circle cx="430.2" cy="1050.8" r="2.45"/><circle cx="435.3" cy="1050.8" r="2.45"/><circle cx="440.4" cy="1050.8" r="2.45"/><circle cx="445.5" cy="1050.9" r="2.45"/><circle cx="450.6" cy="1050.9" r="2.45"/><circle cx="455.7" cy="1050.9" r="2.45"/><circle cx="460.8" cy="1050.9" r="2.45"/><circle cx="465.9" cy="1050.9" r="2.45"/><circle cx="471" cy="1050.9" r="2.45"/><circle cx="476.1" cy="1051" r="2.45"/><circle cx="481.2" cy="1051" r="2.45"/><circle cx="486.3" cy="1051" r="2.45"/><circle cx="490.9" cy="1048.2" r="2.45"/><circle cx="493.4" cy="1035" r="2.45"/><circle cx="495.2" cy="1021" r="2.45"/><circle cx="496.1" cy="1006.3" r="2.45"/><circle cx="497.2" cy="991.6" r="2.45"/><circle cx="497.5" cy="976.8" r="2.45"/><circle cx="499.1" cy="962.5" r="2.45"/><circle cx="500.9" cy="948.5" r="2.45"/><circle cx="502.8" cy="934.5" r="2.45"/><circle cx="504.4" cy="920.3" r="2.45"/><circle cx="504.6" cy="905.4" r="2.45"/><circle cx="506.5" cy="891.5" r="2.45"/><circle cx="507.7" cy="877.1" r="2.45"/><circle cx="508.6" cy="873.5" r="2.45"/><circle cx="510.5" cy="887.5" r="2.45"/><circle cx="511.3" cy="902" r="2.45"/><circle cx="512.6" cy="916.4" r="2.45"/><circle cx="513.7" cy="931.1" r="2.45"/><circle cx="514.4" cy="945.9" r="2.45"/><circle cx="515.6" cy="960.5" r="2.45"/><circle cx="516.2" cy="975.3" r="2.45"/><circle cx="516.9" cy="990" r="2.45"/><circle cx="518.3" cy="1004.4" r="2.45"/><circle cx="519.5" cy="1018.9" r="2.45"/><circle cx="520.3" cy="1033.7" r="2.45"/><circle cx="521.7" cy="1048.1" r="2.45"/><circle cx="526.3" cy="1051.6" r="2.45"/><circle cx="530" cy="1043.3" r="2.45"/><circle cx="531.3" cy="1029.1" r="2.45"/><circle cx="531.5" cy="1014.2" r="2.45"/><circle cx="532.5" cy="999.4" r="2.45"/><circle cx="533" cy="984.5" r="2.45"/><circle cx="534.1" cy="970" r="2.45"/><circle cx="533.3" cy="955.2" r="2.45"/><circle cx="533.6" cy="940.2" r="2.45"/><circle cx="533.9" cy="925.2" r="2.45"/><circle cx="534.3" cy="910.3" r="2.45"/><circle cx="534.6" cy="895.3" r="2.45"/><circle cx="534.8" cy="880.3" r="2.45"/><circle cx="535.1" cy="865.3" r="2.45"/><circle cx="535.3" cy="850.4" r="2.45"/><circle cx="535.5" cy="835.4" r="2.45"/><circle cx="535.7" cy="820.4" r="2.45"/><circle cx="535.8" cy="805.4" r="2.45"/><circle cx="535.9" cy="790.4" r="2.45"/><circle cx="536.1" cy="775.4" r="2.45"/><circle cx="536.6" cy="760.5" r="2.45"/><circle cx="537.3" cy="745.6" r="2.45"/><circle cx="537.9" cy="730.7" r="2.45"/><circle cx="538.4" cy="715.8" r="2.45"/><circle cx="538.6" cy="700.8" r="2.45"/><circle cx="538.8" cy="707" r="2.45"/><circle cx="539.1" cy="721.9" r="2.45"/><circle cx="539.7" cy="736.8" r="2.45"/><circle cx="540.6" cy="751.6" r="2.45"/><circle cx="541.2" cy="766.5" r="2.45"/><circle cx="541.6" cy="781.4" r="2.45"/><circle cx="541.8" cy="796.4" r="2.45"/><circle cx="542" cy="811.4" r="2.45"/><circle cx="542.3" cy="826.4" r="2.45"/><circle cx="542.5" cy="841.4" r="2.45"/><circle cx="542.7" cy="856.4" r="2.45"/><circle cx="542.8" cy="871.4" r="2.45"/><circle cx="542.9" cy="886.4" r="2.45"/><circle cx="543" cy="901.4" r="2.45"/><circle cx="543.2" cy="916.4" r="2.45"/><circle cx="543.4" cy="931.3" r="2.45"/><circle cx="543.7" cy="946.3" r="2.45"/><circle cx="544.2" cy="961.2" r="2.45"/><circle cx="544.8" cy="976.1" r="2.45"/><circle cx="545.4" cy="991" r="2.45"/><circle cx="545.5" cy="1006" r="2.45"/><circle cx="546" cy="1020.9" r="2.45"/><circle cx="547" cy="1035.7" r="2.45"/><circle cx="549.6" cy="1047.9" r="2.45"/><circle cx="554.1" cy="1051.7" r="2.45"/><circle cx="559.2" cy="1052" r="2.45"/><circle cx="564.3" cy="1052.2" r="2.45"/><circle cx="569.4" cy="1052.4" r="2.45"/><circle cx="573.7" cy="1047.9" r="2.45"/><circle cx="575.8" cy="1034.4" r="2.45"/><circle cx="576.6" cy="1019.8" r="2.45"/><circle cx="577.5" cy="1005.1" r="2.45"/><circle cx="578.4" cy="990.4" r="2.45"/><circle cx="578.9" cy="975.5" r="2.45"/><circle cx="579.7" cy="960.7" r="2.45"/><circle cx="580.4" cy="945.9" r="2.45"/><circle cx="581.4" cy="931.2" r="2.45"/><circle cx="582.4" cy="916.5" r="2.45"/><circle cx="583.4" cy="901.8" r="2.45"/><circle cx="585.7" cy="888.5" r="2.45"/><circle cx="587.6" cy="874.6" r="2.45"/><circle cx="589.4" cy="860.7" r="2.45"/><circle cx="590.1" cy="846.1" r="2.45"/><circle cx="591.1" cy="860.8" r="2.45"/><circle cx="592.8" cy="874.9" r="2.45"/><circle cx="594.1" cy="889.4" r="2.45"/><circle cx="594.4" cy="904.3" r="2.45"/><circle cx="594.8" cy="919.3" r="2.45"/><circle cx="595.1" cy="934.3" r="2.45"/><circle cx="595.4" cy="949.2" r="2.45"/><circle cx="596.3" cy="963.9" r="2.45"/><circle cx="597.2" cy="978.5" r="2.45"/><circle cx="597.2" cy="993.5" r="2.45"/><circle cx="598.2" cy="1008.1" r="2.45"/><circle cx="599" cy="1022.8" r="2.45"/><circle cx="599.8" cy="1037.5" r="2.45"/><circle cx="602.3" cy="1050.3" r="2.45"/><circle cx="606.7" cy="1054.6" r="2.45"/><circle cx="611.8" cy="1054.7" r="2.45"/><circle cx="616.9" cy="1054.7" r="2.45"/><circle cx="622" cy="1054.7" r="2.45"/><circle cx="627.1" cy="1054.7" r="2.45"/><circle cx="632.2" cy="1054.8" r="2.45"/></g>
</g>
<path d="M183.6,1055.3v-13.5M183.6,573.9v13.5M347.8,1055.3v-13.5M347.8,573.9v13.5M512.1,1055.3v-13.5M512.1,573.9v13.5M265.7,1055.3v-7.0M265.7,573.9v7.0M430,1055.3v-7.0M430,573.9v7.0M594.2,1055.3v-7.0M594.2,573.9v7.0M101.5,894.8h13.5M676.3,894.8h-13.5M101.5,734.4h13.5M676.3,734.4h-13.5M101.5,975.1h7.0M676.3,975.1h-7.0M101.5,814.6h7.0M676.3,814.6h-7.0M101.5,654.1h7.0M676.3,654.1h-7.0" stroke="#000" stroke-width="2.0" fill="none"/>
<rect x="101.5" y="573.9" width="574.8" height="481.4" fill="none" stroke="#000" stroke-width="2.4"/>
<text transform="translate(95.2,586.8) scale(1,1.05)" text-anchor="end" font-family="'Liberation Sans', Arial, Helvetica, sans-serif" font-size="35">0.9</text>
<text transform="translate(95.2,747.3) scale(1,1.05)" text-anchor="end" font-family="'Liberation Sans', Arial, Helvetica, sans-serif" font-size="35">0.6</text>
<text transform="translate(95.2,907.7) scale(1,1.05)" text-anchor="end" font-family="'Liberation Sans', Arial, Helvetica, sans-serif" font-size="35">0.3</text>
<text transform="translate(95.2,1068.2) scale(1,1.05)" text-anchor="end" font-family="'Liberation Sans', Arial, Helvetica, sans-serif" font-size="35">0.0</text>
<text transform="translate(183.6,1086.8) scale(1.02,1)" text-anchor="middle" font-family="'Liberation Sans', Arial, Helvetica, sans-serif" font-size="33">-3</text>
<text transform="translate(347.8,1086.8) scale(1.02,1)" text-anchor="middle" font-family="'Liberation Sans', Arial, Helvetica, sans-serif" font-size="33">-2</text>
<text transform="translate(512.1,1086.8) scale(1.02,1)" text-anchor="middle" font-family="'Liberation Sans', Arial, Helvetica, sans-serif" font-size="33">-1</text>
<text transform="translate(676.3,1086.8) scale(1.02,1)" text-anchor="middle" font-family="'Liberation Sans', Arial, Helvetica, sans-serif" font-size="33">0</text>
<text transform="translate(335.6,1120.6) scale(1.05,1)" font-family="'Liberation Serif', 'Times New Roman', serif" font-size="42" stroke="#000" stroke-width="0.9">ω</text>
<text x="372.2" y="1119.9" font-family="'Liberation Serif', 'Times New Roman', serif" font-weight="bold" font-style="italic" font-size="39" stroke="#000" stroke-width="0.3">(eV)</text>
<text transform="translate(31,1011.7) rotate(-90)" font-family="'Liberation Serif', 'Times New Roman', serif" font-weight="bold" font-style="italic" font-size="45" stroke="#000" stroke-width="0.3">Intentisity (arb. units)</text>
<rect x="136.1" y="622.9" width="198.9" height="111.5" fill="#fff" stroke="#000" stroke-width="2.2"/>
<use href="#tu" x="174.4" y="638.9"/><use href="#td" x="174.4" y="669.1"/>
<path d="M146,693.6H202.2" stroke="#6414ff" stroke-width="2.2"/>
<path d="M154.1,718.2H203.2" stroke="#5c0a6c" stroke-width="2.3" stroke-dasharray="2.3 6.2"/>
<circle cx="146" cy="718.2" r="2.6" fill="#5c0a6c"/><circle cx="203.2" cy="718.2" r="2.6" fill="#5c0a6c"/>
<text transform="translate(216.2,646) scale(1.12,1)" font-family="'Liberation Serif', 'Times New Roman', serif" font-size="24">Σ</text>
<text x="242.2" y="645.6" font-family="'Liberation Serif', 'Times New Roman', serif" font-weight="bold" font-style="italic" font-size="23">(T=33 K)</text>
<text x="216.2" y="674.6" font-family="'Liberation Sans', Arial, Helvetica, sans-serif" font-size="23">X</text>
<text x="238.6" y="674.2" font-family="'Liberation Serif', 'Times New Roman', serif" font-weight="bold" font-style="italic" font-size="23">(T=33 K)</text>
<text x="216.6" y="701.6" font-family="'Liberation Serif', 'Times New Roman', serif" font-weight="bold" font-style="italic" font-size="23">U=2.5 eV</text>
<text x="216.6" y="726.2" font-family="'Liberation Sans', Arial, Helvetica, sans-serif" font-size="23">QSGW</text>
</svg></body></html>
